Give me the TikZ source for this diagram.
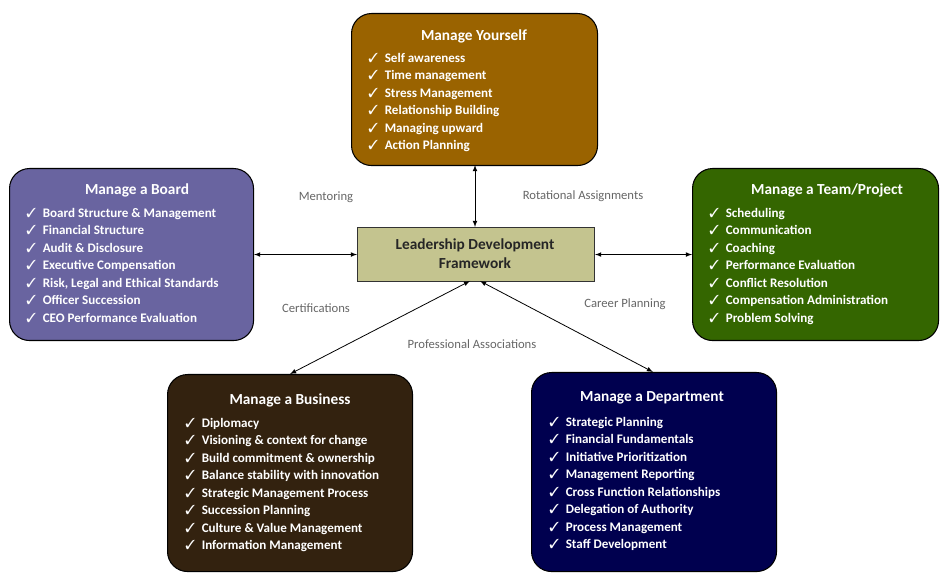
\documentclass[tikz,border=0pt]{standalone}
\usepackage{fontspec}
\setmainfont{Carlito}
\usepackage{pifont}
\begin{document}
\begin{tikzpicture}[x=0.75pt,y=-0.75pt,
  box/.style={draw=black,line width=0.8pt,rounded corners=15pt,anchor=north west,inner sep=0pt},
  ttl/.style={text=white,font=\fontsize{11.5}{13}\selectfont\bfseries,anchor=center},
  lst/.style={text=white,font=\fontsize{9.8}{13.1}\selectfont\bfseries,align=left,anchor=north west,inner sep=0pt},
  lbl/.style={text=black!60,font=\fontsize{9.5}{11}\selectfont},
  arr/.style={<->,>=latex,line width=0.6pt}]
\useasboundingbox (0,0) rectangle (949,584);
\definecolor{cY}{HTML}{9A6300}
\definecolor{cB}{HTML}{6964A0}
\definecolor{cT}{HTML}{346600}
\definecolor{cBu}{HTML}{33220F}
\definecolor{cD}{HTML}{00004F}
\definecolor{cC}{HTML}{C4C48F}
\newcommand{\ck}{\ding{51}\hspace{5pt}}
% boxes
\node[box,fill=cY,minimum width=246*0.75pt,minimum height=152*0.75pt] (you) at (351,13) {};
\node[ttl] (youT) at (474,36) {Manage Yourself};
\node[lst] (youL) at (368,53) {\ck Self awareness\\\ck Time management\\\ck Stress Management\\\ck Relationship Building\\\ck Managing upward\\\ck Action Planning};
\node[box,fill=cB,minimum width=244*0.75pt,minimum height=172*0.75pt] (brd) at (9,168) {};
\node[ttl] (brdT) at (137,190) {Manage a Board};
\node[lst] (brdL) at (26,208) {\ck Board Structure \& Management\\\ck Financial Structure\\\ck Audit \& Disclosure\\\ck Executive Compensation\\\ck Risk, Legal and Ethical Standards\\\ck Officer Succession\\\ck CEO Performance Evaluation};
\node[box,fill=cT,minimum width=246*0.75pt,minimum height=172*0.75pt] (tm) at (692,168) {};
\node[ttl] (tmT) at (827,190) {Manage a Team/Project};
\node[lst] (tmL) at (709,208) {\ck Scheduling\\\ck Communication\\\ck Coaching\\\ck Performance Evaluation\\\ck Conflict Resolution\\\ck Compensation Administration\\\ck Problem Solving};
\node[box,fill=cBu,minimum width=245*0.75pt,minimum height=197*0.75pt] (bus) at (167,374) {};
\node[ttl] (busT) at (290,400) {Manage a Business};
\node[lst] (busL) at (185,418) {\ck Diplomacy\\\ck Visioning \& context for change\\\ck Build commitment \& ownership\\\ck Balance stability with innovation\\\ck Strategic Management Process\\\ck Succession Planning\\\ck Culture \& Value Management\\\ck Information Management};
\node[box,fill=cD,minimum width=245*0.75pt,minimum height=199*0.75pt] (dep) at (531,372) {};
\node[ttl] (depT) at (652,398) {Manage a Department};
\node[lst] (depL) at (549,417) {\ck Strategic Planning\\\ck Financial Fundamentals\\\ck Initiative Prioritization\\\ck Management Reporting\\\ck Cross Function Relationships\\\ck Delegation of Authority\\\ck Process Management\\\ck Staff Development};
\node[draw=black!80,line width=0.8pt,fill=cC,minimum width=237*0.75pt,minimum height=54*0.75pt,anchor=north west,inner sep=0pt] (ctr) at (357,227) {};
\node[font=\fontsize{11.5}{14.5}\selectfont\bfseries,text=black!85,align=center] (ctrT) at (475,254) {Leadership Development\\Framework};
% labels
\node[lbl] (l1) at (326,197) {Mentoring};
\node[lbl] (l2) at (583,196) {Rotational Assignments};
\node[lbl] (l3) at (316,308) {Certifications};
\node[lbl] (l4) at (625,304) {Career Planning};
\node[lbl] (l5) at (472,344) {Professional Associations};
% arrows
\coordinate (a1) at (475,165); \coordinate (a2) at (475,227);
\draw[arr] (a1) -- (a2);
\draw[arr] (brd.east |- ctr.west) -- (ctr.west);
\draw[arr] (ctr.east) -- (tm.west |- ctr.east);
\coordinate (b1) at (470,281); \coordinate (b2) at (290,374);
\draw[arr] (b1) -- (b2);
\coordinate (c1) at (480,281); \coordinate (c2) at (653,372);
\draw[arr] (c1) -- (c2);
\end{tikzpicture}
\end{document}
